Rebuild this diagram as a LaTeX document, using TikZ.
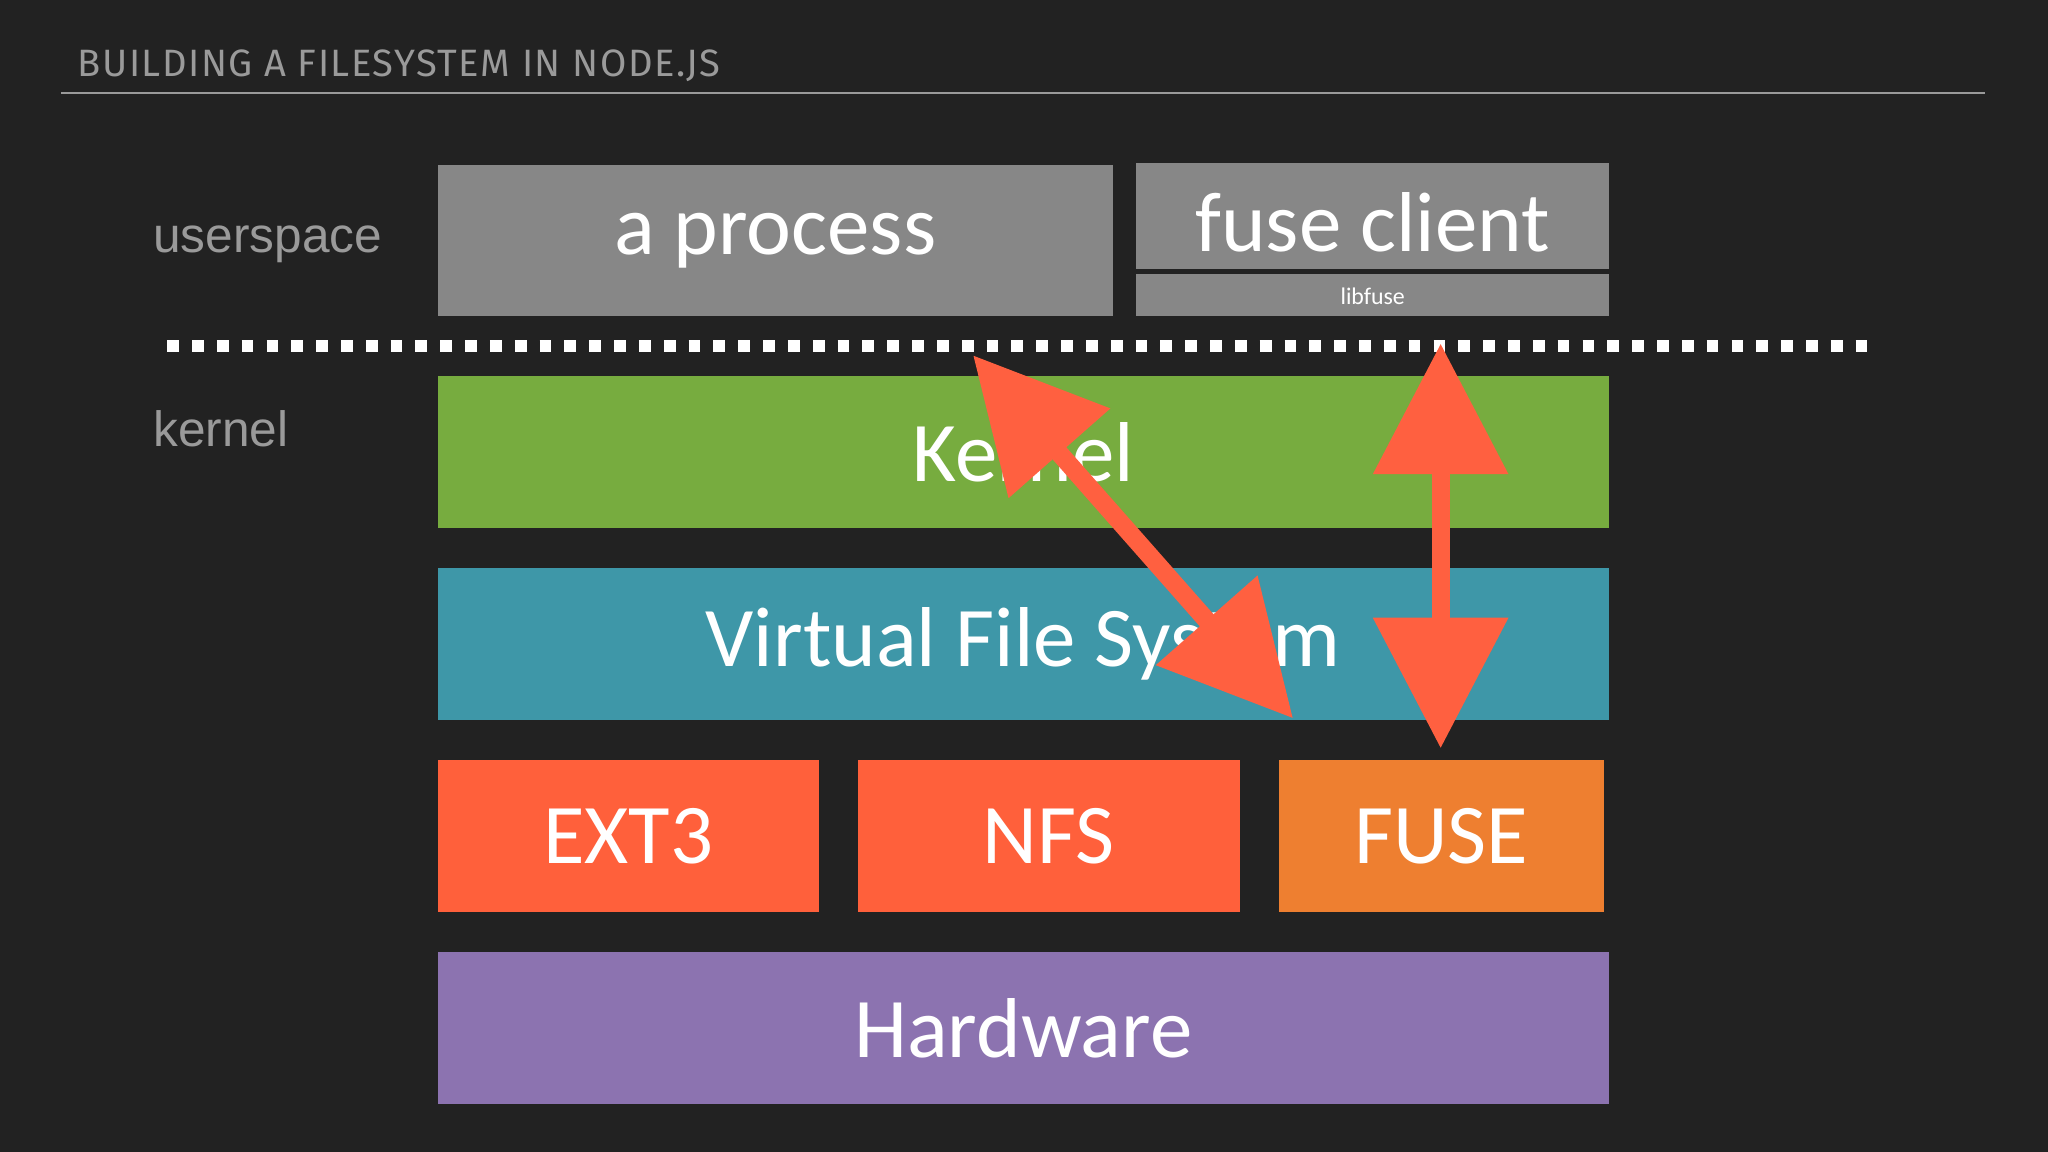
\documentclass[tikz,border=0pt]{standalone}
\usepackage{fontspec}
\setmainfont{Carlito}
\newfontfamily\titlefont{Fira Sans}
\newfontfamily\labelfont{Liberation Sans}
\usetikzlibrary{arrows.meta}
\definecolor{bg}{HTML}{222222}
\definecolor{procgray}{HTML}{878787}
\definecolor{kerngreen}{HTML}{77AC3F}
\definecolor{vfsteal}{HTML}{3E97A8}
\definecolor{fsred}{HTML}{FF603B}
\definecolor{fuseorange}{HTML}{EE7F30}
\definecolor{hwpurple}{HTML}{8C73B0}
\definecolor{arrowred}{HTML}{FF6040}
\definecolor{labelgray}{HTML}{9A9A9A}

\tikzset{
  layer/.style={draw=none, inner sep=0pt, text=white, font=\fontsize{18.5}{20}\selectfont},
  side/.style={anchor=west, text=labelgray, font=\labelfont\fontsize{10.8}{12}\selectfont},
  bigarrow/.style={arrowred, line width=0.14cm, {Triangle[width=1cm,length=1cm]}-{Triangle[width=1cm,length=1cm]}}
}

\begin{document}
\begin{tikzpicture}[x=0.01cm, y=-0.01cm]
  \fill[bg] (0,0) rectangle (1568,882);
  \useasboundingbox (0,0) rectangle (1568,882);

  % title
  \node[anchor=west, text=labelgray, font=\titlefont\fontsize{8.3}{10}\selectfont] (title) at (47,50) {\addfontfeature{LetterSpace=4}BUILDING A FILESYSTEM IN NODE.JS};
  \draw[labelgray, line width=0.4pt] (47,71) -- (1520,71);

  % side labels
  \node[side] (user) at (105,187) {userspace};
  \node[side] (kern) at (105,328) {kernel};

  % userspace boxes
  \path[fill=procgray] (335,126) rectangle (852,242);
  \node[layer] (proc) at (593.5,184) {a process};
  \path[fill=procgray] (870,125) rectangle (1232,206);
  \node[layer] (client) at (1051,170) {fuse client};
  \path[fill=procgray] (870,210) rectangle (1232,242);
  \node[layer, font=\fontsize{5.2}{6}\selectfont] (libfuse) at (1051,227) {libfuse};

  % boundary
  \draw[white, line width=0.09cm, dash pattern=on 0.09cm off 0.1cm] (128,265) -- (1432,265);

  % kernel layers
  \path[fill=kerngreen] (335,288) rectangle (1232,404);
  \node[layer] (kernel) at (783.5,346) {Kernel};
  \path[fill=vfsteal] (335,435) rectangle (1232,551);
  \node[layer] (vfs) at (783.5,493) {Virtual File System};
  \path[fill=fsred] (335,582) rectangle (627,698);
  \node[layer] (ext) at (481,640) {EXT3};
  \path[fill=fsred] (657,582) rectangle (949,698);
  \node[layer] (nfs) at (803,640) {NFS};
  \path[fill=fuseorange] (979,582) rectangle (1228,698);
  \node[layer] (fuse) at (1103.5,640) {FUSE};
  \path[fill=hwpurple] (335,729) rectangle (1232,845);
  \node[layer] (hw) at (783.5,787) {Hardware};

  % arrows
  \coordinate (a1) at (745,272);
  \coordinate (a2) at (990,550);
  \coordinate (b1) at (1103,263);
  \coordinate (b2) at (1103,573);
  \draw[bigarrow] (a1) -- (a2);
  \draw[bigarrow] (b1) -- (b2);
\end{tikzpicture}
\end{document}
